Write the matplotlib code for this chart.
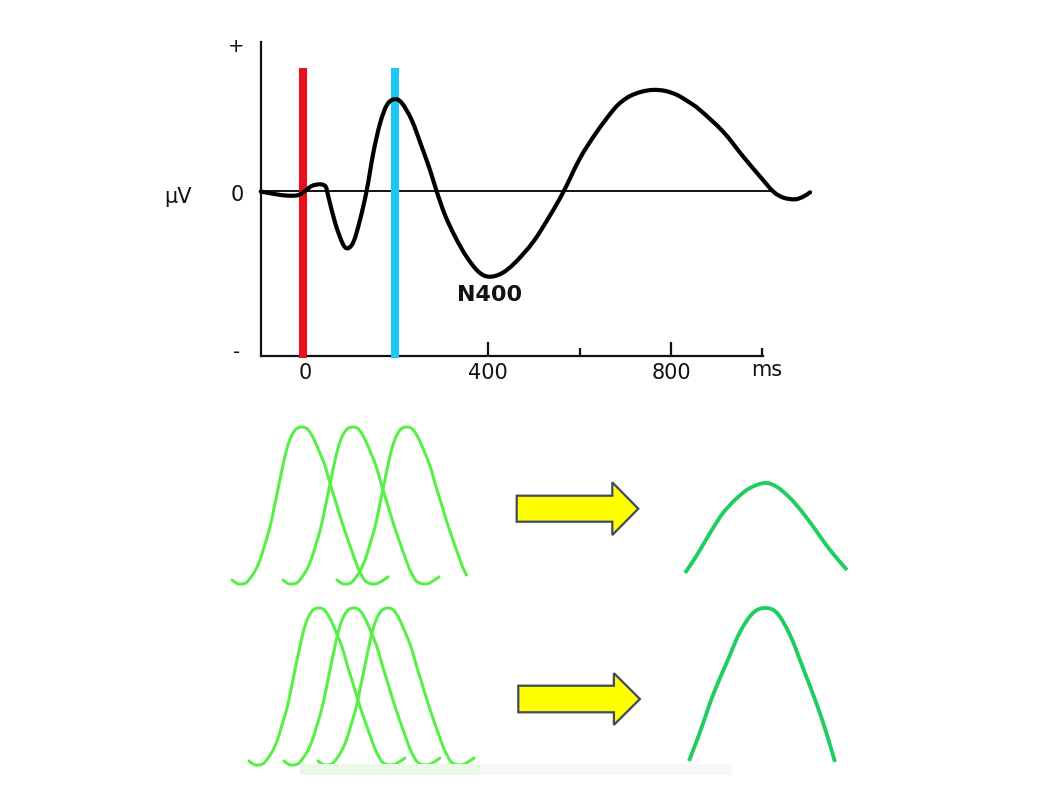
import matplotlib
matplotlib.use("Agg")
import matplotlib.pyplot as plt
from matplotlib.patches import FancyArrow, Rectangle, PathPatch
from matplotlib.path import Path

plt.rcParams['font.family'] = ['DejaVu Sans']

# ---------------- ERP waveform (top panel) ----------------
erp_ms = [-97, -66, -37, -15, 0, 15, 33, 45, 51, 66, 82, 93, 106, 120, 135, 149,
          164, 179, 195, 211, 233, 255, 273, 288, 306, 328, 353, 379, 402, 430,
          459, 499, 536, 565, 601, 638, 674, 692, 712, 736, 761, 787, 813, 838,
          863, 914, 958, 995, 1024, 1046, 1071, 1089, 1104]
erp_uv = [0.0, -0.13, -0.21, -0.18, 0.03, 0.28, 0.36, 0.24, -0.26, -1.59, -2.59,
          -2.84, -2.51, -1.43, 0.08, 1.91, 3.41, 4.33, 4.61, 4.44, 3.58, 2.24,
          1.08, -0.01, -1.18, -2.26, -3.26, -4.01, -4.26, -4.09, -3.56, -2.51,
          -1.18, -0.01, 1.66, 2.99, 4.08, 4.49, 4.79, 4.99, 5.08, 5.03, 4.83,
          4.49, 4.08, 2.99, 1.74, 0.74, -0.01, -0.31, -0.39, -0.26, -0.04]
major_ticks = [0, 400, 800]
major_labels = ['0', '400', '800']
minor_ticks = [600, 1000]
marker_ms = [-4, 197]          # red and cyan time markers
marker_colors = ['#e8101c', '#1fc6f2']
component_label = 'N400'

# ---------------- schematic (bottom panel) ----------------
# template of one single-trial component (offset from its peak, schematic units)
bump_dx = [-70, -65, -60.6, -55, -47.3, -42, -37.3, -32, -27.3, -23, -19, -15.5,
           -12.3, -9, -5.6, -2.5, 0, 3, 6, 10, 14.4, 18.5, 22.7, 26, 29.4, 33.5,
           37.7, 42.5, 47.7, 52, 56, 59.5, 62.7, 66.5, 71, 75, 79.4, 86]
bump_dy = [153, 156.5, 157, 155, 144.5, 133, 118, 100, 78, 57, 38, 23, 13, 6,
           1.7, 0.3, 0, 0.5, 2.7, 8.5, 17.7, 27.5, 38, 49, 61, 74, 88, 103, 118,
           130, 141, 148, 153.4, 156, 157, 156.5, 154.4, 150]
row1_peaks = [302, 353, 407]     # large latency jitter
row2_peaks = [319, 354, 388]     # small latency jitter
row1_peak_level = 427
row2_peak_level = 608

avg1_x = [685, 697, 710, 723, 737, 750, 765, 777, 790, 803, 817, 830, 847]
avg1_y = [573, 555, 533, 513, 498, 488, 483, 487, 498, 513, 532, 550, 570]
avg2_x = [689, 700, 713, 727, 740, 753, 765, 777, 790, 803, 817, 827, 835]
avg2_y = [761, 732, 695, 662, 632, 613, 608, 613, 635, 668, 705, 735, 762]


def smooth_path(xs, ys):
    """Smooth (Catmull-Rom as cubic Bezier) path through the given points."""
    n = len(xs)
    verts = [(xs[0], ys[0])]
    codes = [Path.MOVETO]
    for i in range(n - 1):
        x0, y0 = (xs[i - 1], ys[i - 1]) if i > 0 else (xs[i], ys[i])
        x1, y1 = xs[i], ys[i]
        x2, y2 = xs[i + 1], ys[i + 1]
        x3, y3 = (xs[i + 2], ys[i + 2]) if i + 2 < n else (x2, y2)
        verts += [(x1 + (x2 - x0) / 6, y1 + (y2 - y0) / 6),
                  (x2 - (x3 - x1) / 6, y2 - (y3 - y1) / 6),
                  (x2, y2)]
        codes += [Path.CURVE4] * 3
    return Path(verts, codes)


def draw_smooth(ax, xs, ys, color, lw, zorder=3, capstyle='round'):
    ax.add_patch(PathPatch(smooth_path(xs, ys), fill=False, edgecolor=color,
                           lw=lw, capstyle=capstyle, joinstyle='round',
                           zorder=zorder, clip_on=False))


fig = plt.figure(figsize=(10.41, 7.86), dpi=100)

# ---- top ERP axes ----
ax1 = fig.add_axes([0.25043, 0.54746, 0.53036, 0.39949])
ax1.set_xlim(-97, 1110)
ax1.set_ylim(-8.21, 7.49)
for s in ['top', 'right']:
    ax1.spines[s].set_visible(False)
for s in ['left', 'bottom']:
    ax1.spines[s].set_linewidth(1.6)
    ax1.spines[s].set_color('#111111')
ax1.spines['bottom'].set_bounds(-97, 1002)
ax1.set_yticks([])
ax1.set_xticks(major_ticks)
ax1.set_xticklabels(major_labels)
ax1.set_xticks(minor_ticks, minor=True)
ax1.tick_params(axis='x', which='major', direction='in', length=10, width=1.6,
                labelsize=15, pad=5, colors='#111111')
ax1.tick_params(axis='x', which='minor', direction='in', length=5.5, width=1.6,
                colors='#111111')

ax1.plot([-97, 1016], [0, 0], color='black', lw=1.3, zorder=2, clip_on=False)
for m, c in zip(marker_ms, marker_colors):
    ax1.plot([m, m], [6.16, -8.34], color=c, lw=5.8, solid_capstyle='butt',
             zorder=3, clip_on=False)
draw_smooth(ax1, erp_ms, erp_uv, 'black', 3, zorder=4)

ax1.text(404, -5.18, component_label, ha='center', va='center', fontsize=16,
         fontweight='bold', color='#111111')
ax1.text(-151, 7.24, '+', ha='center', va='center', fontsize=14, color='#111111')
ax1.text(-149, -0.2, '0', ha='center', va='center', fontsize=15, color='#111111')
ax1.text(-149, -8.05, '-', ha='center', va='center', fontsize=14, color='#111111')
ax1.text(-277, -0.26, 'μV', ha='center', va='center', fontsize=15, color='#111111')
ax1.text(1009, -8.93, 'ms', ha='center', va='center', fontsize=15, color='#111111')

# ---- bottom schematic axes ----
ax2 = fig.add_axes([0, 0, 1, 0.48])
ax2.set_xlim(0, 1041)
ax2.set_ylim(786, 786 - 0.48 * 786)
ax2.axis('off')

bump_color = '#58ef48'
for i, p in enumerate(row1_peaks):
    xs = [p + d for d in bump_dx]
    ys = [row1_peak_level + d for d in bump_dy]
    if i == len(row1_peaks) - 1:
        keep = [k for k, d in enumerate(bump_dx) if d <= 69]
        xs = [xs[k] for k in keep][:-2]
        ys = [ys[k] for k in keep][:-2]
    draw_smooth(ax2, xs, ys, bump_color, 2.2, zorder=2)
for p in row2_peaks:
    xs = [p + d for d in bump_dx]
    ys = [row2_peak_level + d for d in bump_dy]
    draw_smooth(ax2, xs, ys, bump_color, 2.2, zorder=2)

# faint band over the lower row
ax2.add_patch(Rectangle((300, 763.5), 180, 11, fc='#e9f9e5', ec='none', zorder=5))
ax2.add_patch(Rectangle((480, 763.5), 252, 11, fc='#f7f7fa', ec='none', zorder=5))

avg_color = '#20cd60'
draw_smooth(ax2, avg1_x, avg1_y, avg_color, 2.8, zorder=3, capstyle='butt')
draw_smooth(ax2, avg2_x, avg2_y, avg_color, 2.8, zorder=3, capstyle='butt')

for (x0, yc, w, hw) in [(516.7, 508.7, 26, 52.7), (518.3, 699, 26.6, 51.7)]:
    ax2.add_patch(FancyArrow(x0, yc, 121.6, 0, width=w, head_width=hw,
                             head_length=26, length_includes_head=True,
                             fc='#ffff00', ec='#3e4a5e', lw=1.6, zorder=4))

fig.savefig('out.png', dpi=100)
